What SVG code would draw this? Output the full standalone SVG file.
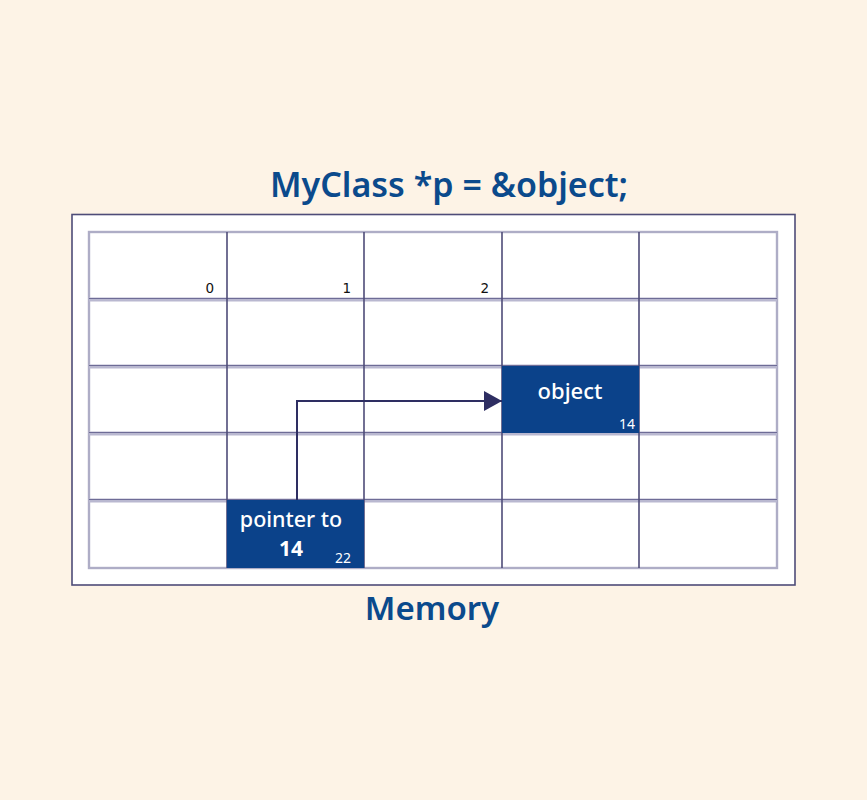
<svg xmlns="http://www.w3.org/2000/svg" width="867" height="800" viewBox="0 0 867 800">
<defs>
<style>
.title{font-family:"Noto Sans","Open Sans",sans-serif;font-weight:600;fill:#0b4a8c;text-anchor:middle}
.hl{stroke:#b9b8d0;stroke-width:4}
.hlc{stroke:#6e6c96;stroke-width:1}
.vl{stroke:#4e4c78;stroke-width:1.6}
.cell{fill:#0b428a}
.lbl{font-family:"Noto Sans","Open Sans",sans-serif;fill:#fff;text-anchor:middle;font-weight:500}
.bold{font-weight:700}
.num{font-family:"DejaVu Sans",sans-serif;font-size:13.5px;fill:#111;text-anchor:end}
.addr{font-family:"Noto Sans",sans-serif;font-size:14px;fill:#fff;text-anchor:end}
</style>
<marker id="ah" markerWidth="20" markerHeight="20" refX="18" refY="10" orient="auto" markerUnits="userSpaceOnUse">
<path d="M0,0 L18,10 L0,20 Z" fill="#2e2e62"/>
</marker>
</defs>
<rect width="867" height="800" fill="#fdf3e6"/>
<text class="title" x="449" y="197" font-size="34">MyClass *p = &amp;object;</text>
<g id="memory">
<rect x="72" y="214.5" width="723" height="370.5" fill="#fff" stroke="#4e4c78" stroke-width="1.6"/>
<rect x="89" y="232" width="688" height="336" fill="#fff" stroke="#aeadc6" stroke-width="2.4"/>
<g id="grid">
<line class="hl" x1="89" y1="299.5" x2="777" y2="299.5"/>
<line class="hl" x1="89" y1="366.5" x2="777" y2="366.5"/>
<line class="hl" x1="89" y1="433.5" x2="777" y2="433.5"/>
<line class="hl" x1="89" y1="500.5" x2="777" y2="500.5"/>
<line class="hlc" x1="89" y1="298.5" x2="777" y2="298.5"/>
<line class="hlc" x1="89" y1="365.5" x2="777" y2="365.5"/>
<line class="hlc" x1="89" y1="432.5" x2="777" y2="432.5"/>
<line class="hlc" x1="89" y1="499.5" x2="777" y2="499.5"/>
<line class="vl" x1="227" y1="232" x2="227" y2="568"/>
<line class="vl" x1="364" y1="232" x2="364" y2="568"/>
<line class="vl" x1="502" y1="232" x2="502" y2="568"/>
<line class="vl" x1="639" y1="232" x2="639" y2="568"/>
</g>
<text class="num" x="214" y="293">0</text>
<text class="num" x="351" y="293">1</text>
<text class="num" x="489" y="293">2</text>
</g>
<g id="object">
<rect class="cell" x="502" y="366" width="137" height="67"/>
<text class="lbl" x="570" y="399" font-size="22">object</text>
<text class="addr" x="635" y="429">14</text>
</g>
<g id="pointer">
<rect class="cell" x="227" y="500" width="137" height="68"/>
<text class="lbl" x="291" y="527" font-size="21.5">pointer to</text>
<text class="lbl bold" x="291" y="556" font-size="21">14</text>
<text class="addr" x="351" y="563">22</text>
</g>
<g id="connectors">
<path d="M297,500 V401 H502" fill="none" stroke="#2e2e62" stroke-width="2" marker-end="url(#ah)"/>
</g>
<text class="title" x="432" y="620" font-size="33">Memory</text>
</svg>
